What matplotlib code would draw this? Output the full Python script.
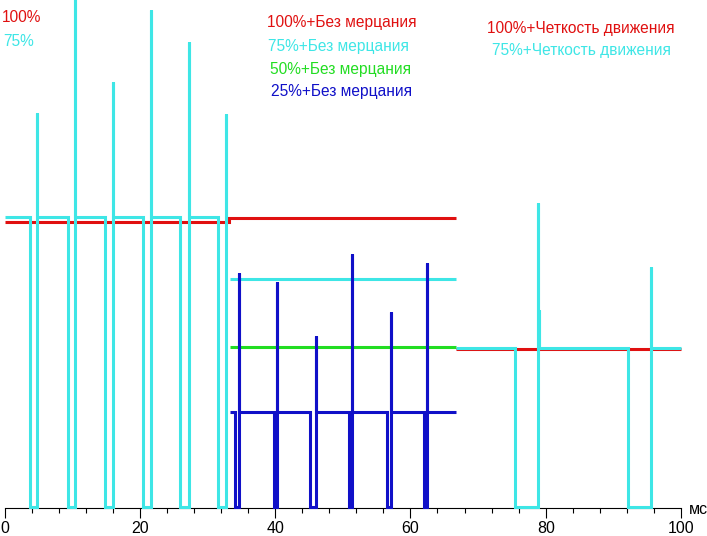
import numpy as np
import matplotlib.pyplot as plt

plt.rcParams['font.family'] = ['Liberation Sans', 'DejaVu Sans']

# ── Colours ──────────────────────────────────────────────────
RED   = '#e01010'
CYAN  = '#3ee6e6'
GREEN = '#22dd22'
BLUE  = '#1010c8'

# ── Data (time in ms, brightness in arbitrary units) ─────────
# red: 100% trace, segments 1+2 (step at 33.2 ms) and segment 3
red_t      = [0.0, 33.2, 33.2, 66.7]
red_y      = [286, 286, 290, 290]
red3_t     = [66.7, 100.0]
red3_y     = [159, 159]

# cyan, segment 1 (75%, PWM with overshoot)
cyan1_span   = [0.0, 32.9]
cyan1_level  = 291
cyan1_off    = [3.8, 9.4, 14.9, 20.5, 26.0, 31.6]
cyan1_on     = [4.8, 10.4, 16.0, 21.7, 27.2, 32.8]
cyan1_peak   = [395, 530, 426, 498, 466, 394]

# segment 2, flicker-free
cyan2_t      = [33.3, 66.7]
cyan2_y      = [229, 229]
green_t      = [33.3, 66.7]
green_y      = [161, 161]

blue_span    = [33.3, 66.7]
blue_level   = 96
blue_off     = [34.1, 39.8, 45.1, 50.9, 56.5, 62.0]
blue_on      = [34.6, 40.3, 46.0, 51.4, 57.1, 62.5]
blue_peak    = [235, 226, 172, 254, 196, 245]

# cyan, segment 3 (motion clarity)
cyan3_span   = [66.7, 100.0]
cyan3_level  = 160
cyan3_off    = [75.4, 92.2]
cyan3_on     = [78.8, 95.6]
cyan3_peak   = [305, 241]
cyan3_echo_t = [79.05]
cyan3_echo_y = [198]

x_ticks = [0, 20, 40, 60, 80, 100]


def pulse_trace(span, level, off, on, peak, echo_t=(), echo_y=()):
    xs, ys = [span[0]], [level]
    for s, e, p in zip(off, on, peak):
        xs += [s, s, e, e, e]
        ys += [level, 1, 1, p, level]
        for et, ey in zip(echo_t, echo_y):
            if e < et < e + 1:
                xs += [et, et, et]
                ys += [level, ey, level]
    xs.append(span[1]); ys.append(level)
    return xs, ys


fig = plt.figure(figsize=(7.07, 5.36), dpi=100)
W, H = 707, 536
ax = fig.add_axes([4.5 / W, (H - 508) / H, 676.5 / W, 508 / H])

kw = dict(lw=2.2, solid_capstyle='butt', solid_joinstyle='miter', clip_on=False)
ax.plot(red_t, red_y, color=RED, zorder=3, **kw)
ax.plot(*pulse_trace(cyan1_span, cyan1_level, cyan1_off, cyan1_on, cyan1_peak),
        color=CYAN, zorder=4, **kw)
ax.plot(cyan2_t, cyan2_y, color=CYAN, zorder=3, **kw)
ax.plot(green_t, green_y, color=GREEN, zorder=3, **kw)
ax.plot(*pulse_trace(blue_span, blue_level, blue_off, blue_on, blue_peak),
        color=BLUE, zorder=4, **kw)
ax.plot(red3_t, red3_y, color=RED, zorder=3, **kw)
ax.plot(*pulse_trace(cyan3_span, cyan3_level, cyan3_off, cyan3_on, cyan3_peak,
                     cyan3_echo_t, cyan3_echo_y),
        color=CYAN, zorder=4, **kw)

ax.set_xlim(0, 100)
ax.set_ylim(0, 508)
for s in ['top', 'right', 'left']:
    ax.spines[s].set_visible(False)
ax.spines['bottom'].set_linewidth(0.8)
ax.set_yticks([])
ax.set_xticks(x_ticks)
ax.set_xticks(np.arange(0, 101, 4), minor=True)
ax.tick_params(axis='x', which='major', length=7.2, width=0.8, labelsize=11.5, pad=2)
ax.tick_params(axis='x', which='minor', length=3.6, width=0.8)
ax.text(1.012, -0.002, 'мс', transform=ax.transAxes, ha='left', va='center',
        fontsize=11.5, clip_on=False)

# ── Labels ────────────────────────────────────────────────────
def label(px, py, s, c):
    fig.text(px / W, 1 - py / H, s, color=c, fontsize=11.2, ha='left', va='center')

label(2, 17, '100%', RED)
label(3, 41, '75%', CYAN)
label(267, 23, '100%+Без мерцания', RED)
label(268, 46, '75%+Без мерцания', CYAN)
label(270, 69, '50%+Без мерцания', GREEN)
label(271, 92, '25%+Без мерцания', BLUE)
label(487, 28, '100%+Четкость движения', RED)
label(492, 51, '75%+Четкость движения', CYAN)

fig.savefig('out.png', dpi=100)
